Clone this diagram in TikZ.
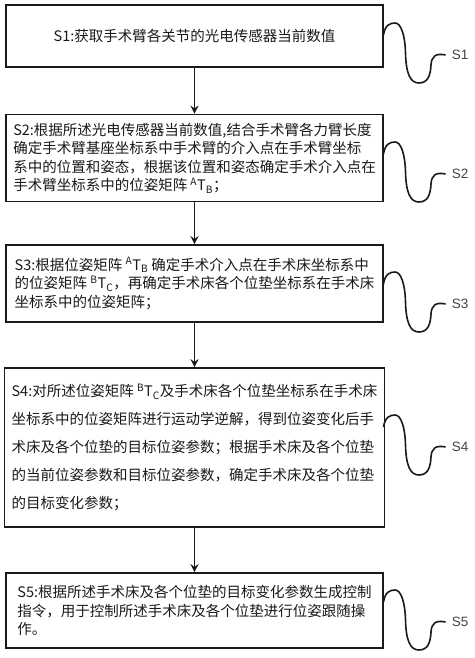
\documentclass[tikz,border=0pt]{standalone}
\usepackage{fontspec}
\setmainfont{Liberation Sans}
\newfontfamily\cjkfont{Noto Sans CJK SC}
\usetikzlibrary{arrows.meta}
\definecolor{ink}{HTML}{1A1A1A}
\definecolor{lab}{HTML}{444444}
\newcommand{\mxA}{\textsuperscript{A}T\textsubscript{B}}
\newcommand{\mxB}{\textsuperscript{B}T\textsubscript{C}}
\tikzset{
  stepbox/.style={draw=ink, line width=1.6pt, minimum width=377pt,
    inner xsep=7pt, inner ysep=0pt, align=left, text=ink,
    font=\cjkfont\fontsize{14.5}{18.5}\selectfont},
  flowarrow/.style={draw=ink, line width=1.6pt, -{Stealth[length=8pt,width=8pt]}},
  wave/.style={draw=ink, line width=1.6pt},
  steplabel/.style={text=lab, font=\fontsize{13.5}{16}\selectfont, inner sep=0pt}
}
\begin{document}
\begin{tikzpicture}[x=1pt,y=-1pt]
\useasboundingbox (0,0) rectangle (474,658);
\fill[white] (0,0) rectangle (474,658);

\node[stepbox, minimum height=62pt, align=center] (b1) at (194.5,36) {S1:获取手术臂各关节的光电传感器当前数值};
\node[stepbox, minimum height=87pt] (b2) at (194.5,158) {S2:根据所述光电传感器当前数值,结合手术臂各力臂长度\\确定手术臂基座坐标系中手术臂的介入点在手术臂坐标\\系中的位置和姿态，根据该位置和姿态确定手术介入点在\\手术臂坐标系中的位姿矩阵 \mxA{}；};
\node[stepbox, minimum height=77pt] (b3) at (194.5,283.5) {S3:根据位姿矩阵 \mxA{} 确定手术介入点在手术床坐标系中\\的位姿矩阵 \mxB{}，再确定手术床各个位垫坐标系在手术床\\坐标系中的位姿矩阵；};
\node[stepbox, minimum height=159pt, font=\cjkfont\fontsize{14.5}{28}\selectfont] (b4) at (194.5,447.5) {S4:对所述位姿矩阵 \mxB{}及手术床各个位垫坐标系在手术床\\坐标系中的位姿矩阵进行运动学逆解，得到位姿变化后手\\术床及各个位垫的目标位姿参数；根据手术床及各个位垫\\的当前位姿参数和目标位姿参数，确定手术床及各个位垫\\的目标变化参数；};
\node[stepbox, minimum height=75pt] (b5) at (194.5,610.5) {S5:根据所述手术床及各个位垫的目标变化参数生成控制\\指令，用于控制所述手术床及各个位垫进行位姿跟随操\\作。};

\draw[flowarrow] (b1) -- (b2);
\draw[flowarrow] (b2) -- (b3);
\draw[flowarrow] (b3) -- (b4);
\draw[flowarrow] (b4) -- (b5);

\foreach \i/\T in {1/23, 2/142, 3/272, 4/415, 5/590} {
  \node[steplabel] (l\i) at (460,\T+32) {S\i};
  \coordinate (w\i) at (383.5,\T+12);
  \draw[wave] (w\i) .. controls (385,\T+2) and (390,\T) .. (395,\T)
    .. controls (401,\T) and (405,\T+12) .. (405.5,\T+30)
    .. controls (406,\T+50) and (410,\T+60) .. (419,\T+60)
    .. controls (428,\T+60) and (430.5,\T+52) .. (431,\T+42)
    .. controls (431.5,\T+33) and (436,\T+30) .. ([xshift=-6pt]l\i.west);
}
\end{tikzpicture}
\end{document}
